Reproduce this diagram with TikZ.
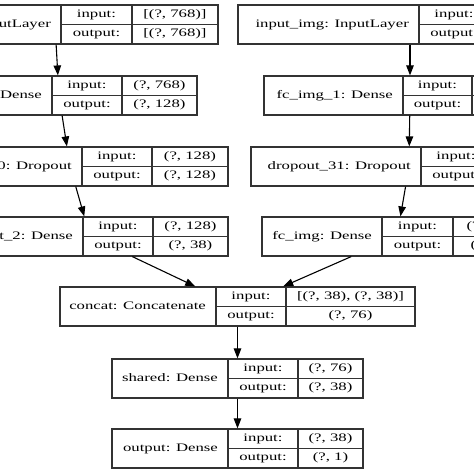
\documentclass[tikz,border=0pt]{standalone}
\usepackage{fontspec}
\setmainfont{Liberation Serif}[FakeStretch=1.46]
\usetikzlibrary{arrows.meta}

\tikzset{
  layerbox/.style={draw=black!80, line width=1.2pt, inner sep=0pt},
  cellline/.style={draw=black!80, line width=1.2pt},
  celltext/.style={font=\fontsize{11.5}{13}\selectfont, inner sep=0pt, text height=8pt, text depth=2.5pt},
  flow/.style={-{Triangle[length=10pt,width=7.5pt]}, line width=1.1pt, black},
}

\begin{document}
\begin{tikzpicture}[x=1bp, y=-1bp]
    \useasboundingbox (0, 0) rectangle (474, 474);
    \def\h{39};

    % #1 node, #2 left, #3 name|input, #4 input|value, #5 right, #6 top
    \def\layer#1#2#3#4#5#6#7#8#9{
        \node[layerbox, minimum width={((#5)-(#2))*1bp}, minimum height=\h bp] (#1) at ({((#2)+(#5))/2}, {(#6)+\h/2}) {};
        \draw[cellline] (#3, #6) -- (#3, {(#6)+\h});
        \draw[cellline] (#4, #6) -- (#4, {(#6)+\h});
        \draw[cellline] (#3, {(#6)+\h/2}) -- (#5, {(#6)+\h/2});
        \node[celltext, anchor=east] (#1-name) at ({(#3)-10}, {(#6)+\h/2}) {#7};
        \node[celltext] (#1-inl) at ({((#3)+(#4))/2}, {(#6)+\h/4}) {input:};
        \node[celltext] (#1-outl) at ({((#3)+(#4))/2}, {(#6)+3*\h/4}) {output:};
        \node[celltext] (#1-inv) at ({((#4)+(#5))/2}, {(#6)+\h/4}) {#8};
        \node[celltext] (#1-outv) at ({((#4)+(#5))/2}, {(#6)+3*\h/4}) {#9};
    }

    % text branch
    \layer{txtin}{-108}{61}{132}{218}{5}{input\_text: InputLayer}{[(?, 768)]}{[(?, 768)]}
    \layer{fctxt1}{-79}{52}{122}{197}{76}{fc\_text\_1: Dense}{(?, 768)}{(?, 128)}
    \layer{droptxt}{-88}{82}{152}{228}{147}{dropout\_30: Dropout}{(?, 128)}{(?, 128)}
    \layer{fctxt2}{-48}{83}{153}{228}{217}{fc\_text\_2: Dense}{(?, 128)}{(?, 38)}

    % image branch
    \layer{imgin}{238}{419}{489}{582}{5}{input\_img: InputLayer}{[(?, 2048)]}{[(?, 2048)]}
    \layer{fcimg1}{264}{403}{472}{556}{76}{fc\_img\_1: Dense}{(?, 2048)}{(?, 128)}
    \layer{dropimg}{251}{421}{491}{567}{147}{dropout\_31: Dropout}{(?, 128)}{(?, 128)}
    \layer{fcimg}{262}{382}{453}{532}{217}{fc\_img: Dense}{(?, 128)}{(?, 38)}

    % merged
    \layer{concat}{60}{216}{286}{415}{287}{concat: Concatenate}{[(?, 38), (?, 38)]}{(?, 76)}
    \layer{shared}{112}{228}{298}{363}{359}{shared: Dense}{(?, 76)}{(?, 38)}
    \layer{output}{112}{228}{298}{363}{429}{output: Dense}{(?, 38)}{(?, 1)}

    \draw[flow] (txtin) -- (fctxt1);
    \draw[flow] (fctxt1) -- (droptxt);
    \draw[flow] (droptxt) -- (fctxt2);
    \draw[flow] (imgin) -- (fcimg1);
    \draw[flow] (fcimg1) -- (dropimg);
    \draw[flow] (dropimg) -- (fcimg);
    \draw[flow] (fctxt2) -- (concat);
    \draw[flow] (fcimg) -- (concat);
    \draw[flow] (concat) -- (shared);
    \draw[flow] (shared) -- (output);

\end{tikzpicture}
\end{document}
